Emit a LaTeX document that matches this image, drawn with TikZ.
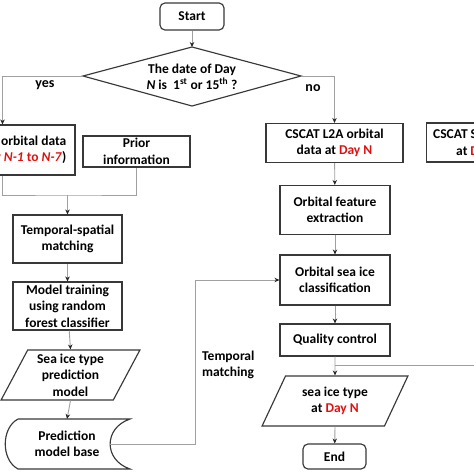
\documentclass[tikz,border=0pt]{standalone}
\usepackage{fontspec}
\setmainfont{Carlito}
\usetikzlibrary{shapes.geometric,arrows.meta}
\definecolor{boxc}{HTML}{383838}
\definecolor{linec}{HTML}{A0A0A0}
\definecolor{redc}{HTML}{E01010}
\begin{document}
\begin{tikzpicture}[x=1pt,y=-1pt,
  font=\fontsize{13.5}{16.5}\selectfont\bfseries,
  box/.style={draw=boxc, line width=1.15pt, align=center, inner sep=0pt, text=black},
  rbox/.style={box, rounded corners=5pt},
  para/.style={box, trapezium, trapezium stretches=true},
  txt/.style={align=center, inner sep=0pt},
  conn/.style={draw=linec, line width=0.9pt},
  arr/.style={conn, -{Stealth[length=5pt,width=4.5pt,color=black!85]}},
  shapeline/.style={draw=boxc, line width=1.15pt}]
\useasboundingbox (0,0) rectangle (474,474);
\clip (0,0) rectangle (474,474);

% start
\node[rbox, minimum width=64pt, minimum height=27pt] (start) at (192,16.5) {Start};

% decision
\coordinate (decT) at (192,47);
\coordinate (decR) at (301,76);
\coordinate (decB) at (192,106);
\coordinate (decL) at (83,76);
\draw[shapeline] (decL) -- (decT) -- (decR) -- (decB) -- cycle;
\node[txt] (dec) at (192,77) {The date of Day\\ \textit{N} is~ 1\textsuperscript{st} or 15\textsuperscript{th} ?};

% left column
\node[box, minimum width=145pt, minimum height=50pt] (orb) at (2.5,150) {};
\node[txt, align=right, anchor=east] (orbtxt) at (66.5,150) {orbital data\\ (\textcolor{redc}{Day \textit{N-1} to \textit{N-7}})};
\node[box, minimum width=107pt, minimum height=31pt] (prior) at (136.5,151.5) {Prior\\ information};
\coordinate (mg) at (67.5,195);
\node[box, minimum width=109pt, minimum height=48pt] (tsm) at (67.5,239) {Temporal-spatial\\ matching};
\node[box, minimum width=109pt, minimum height=48pt] (mt) at (67.5,306) {Model training\\ using random\\ forest classifier};
\node[para, trapezium left angle=64, trapezium right angle=116, minimum width=139pt, minimum height=50pt] (sitpm) at (70.5,375) {Sea ice type\\ prediction\\ model};
\draw[shapeline] (18,419) -- (130,419) .. controls (103.5,428) and (103.5,460) .. (130,469) -- (18,469) .. controls (1,460) and (1,428) .. (18,419);
\coordinate (pmbR) at (110,444);
\node[txt] (pmb) at (67,444) {Prediction\\ model base};

% right column
\node[box, minimum width=137pt, minimum height=39pt] (cscat) at (334.5,143) {CSCAT L2A orbital\\ data at \textcolor{redc}{Day N}};
\node[box, minimum width=110pt, minimum height=49pt] (ofe) at (335,210) {Orbital feature\\ extraction};
\node[box, minimum width=110pt, minimum height=50pt] (osic) at (335,280) {Orbital sea ice\\ classification};
\node[box, minimum width=110pt, minimum height=32pt] (qc) at (335,340) {Quality control};
\node[para, trapezium left angle=61, trapezium right angle=119, minimum width=146pt, minimum height=50pt] (sit) at (335,401) {sea ice type\\ at \textcolor{redc}{Day N}};
\node[rbox, minimum width=63pt, minimum height=25pt] (end) at (334.5,456.5) {End};
\coordinate (qcr) at (474,365);

% far right partial box
\node[box, minimum width=120pt, minimum height=39pt, anchor=west] (cscat2) at (426,142.5) {};
\node[txt, anchor=west] (c2a) at (433,134.5) {CSCAT S};
\node[txt, anchor=west] (c2b) at (456,151) {at \textcolor{redc}{D}};

% labels
\node[txt, font=\fontsize{14}{16}\selectfont\bfseries] (yes) at (45,85) {yes};
\node[txt, font=\fontsize{14}{16}\selectfont\bfseries] (no) at (313,88) {no};
\node[txt, align=left, anchor=west] (tm) at (202,365) {Temporal\\ matching};

% connectors
\draw[arr] (start) -- (decT);
\draw[arr] (decL) -| (orb.north);
\draw[arr] (decR) -| (cscat.north);
\draw[conn] (orb.south) |- (mg) -| (prior.south);
\draw[arr] (mg) -- (tsm.north);
\draw[arr] (tsm) -- (mt);
\draw[arr] (mt) -- (sitpm.north);
\draw[arr] (sitpm.south) -- (pmb.north |- 0,419);
\draw[arr] (pmbR) -- (195,444) |- (osic.west);
\draw[arr] (cscat) -- (ofe);
\draw[arr] (ofe) -- (osic);
\draw[arr] (osic) -- (qc);
\draw[arr] (qc) -- (sit.north);
\draw[conn] (qc.south |- qcr) -- (qcr);
\draw[arr] (sit.south) -- (end);
\end{tikzpicture}
\end{document}
